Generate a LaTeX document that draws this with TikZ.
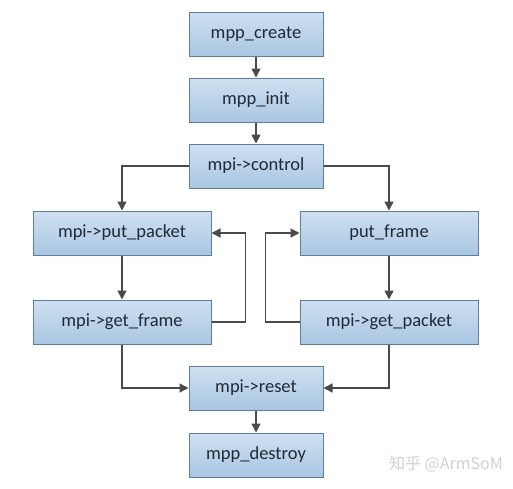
\documentclass[tikz,border=0pt]{standalone}
\usepackage{fontspec}
\setmainfont{Carlito}
\newfontfamily\cjkfont{Noto Sans CJK SC}
\usetikzlibrary{arrows.meta, positioning}
\definecolor{cedge}{HTML}{5E7E9E}
\definecolor{ctop}{HTML}{CFE0F1}
\definecolor{cbot}{HTML}{A9C6E2}
\definecolor{cline}{HTML}{4A4A4A}
\definecolor{ctext}{HTML}{1E2A36}
\tikzset{
  every picture/.style={line width=1.2pt},
  box/.style={draw=cedge, line width=1pt, top color=ctop, bottom color=cbot,
    text=ctext, font=\fontsize{18.5}{21}\selectfont, minimum height=44pt, inner sep=0pt,
    text height=13pt, text depth=4pt},
  arrow/.style={-{Triangle[length=9pt, width=9pt]}, draw=cline, line width=1.3pt},
}
\begin{document}
\begin{tikzpicture}[x=1pt, y=-1pt]
  \useasboundingbox[fill=white] (0,0) rectangle (513,488);
  % ---------- main column
  \foreach \n/\t/\y in {create/mpp\_create/34, init/mpp\_init/100, ctrl/mpi->control/166,
      reset/mpi->reset/388, destroy/mpp\_destroy/455}
    \node[box, minimum width=134pt] (\n) at (256,\y) {\t};
  % ---------- decoder side (left) and encoder side (right)
  \node[box, minimum width=178pt] (pp) at (122,233) {mpi->put\_packet};
  \node[box, minimum width=178pt] (gf) at (122,322) {mpi->get\_frame};
  \node[box, minimum width=178pt] (pf) at (389,233) {put\_frame};
  \node[box, minimum width=178pt] (gp) at (389,322) {mpi->get\_packet};
  % ---------- connectors
  \draw[arrow] (create) -- (init);
  \draw[arrow] (init) -- (ctrl);
  \draw[arrow] (ctrl.west) -| (pp.north);
  \draw[arrow] (ctrl.east) -| (pf.north);
  \draw[arrow] (pp) -- (gf);
  \draw[arrow] (pf) -- (gp);
  \draw[arrow] (gf.east) -- ++(34,0) |- (pp.east);
  \draw[arrow] (gp.west) -- ++(-34,0) |- (pf.west);
  \draw[arrow] (gf.south) |- (reset.west);
  \draw[arrow] (gp.south) |- (reset.east);
  \draw[arrow] (reset) -- (destroy);
  % ---------- watermark
  \node[text=black!18, font=\cjkfont\fontsize{16}{18}\selectfont] (mark) at (446,464) {知乎 @ArmSoM};
\end{tikzpicture}
\end{document}
